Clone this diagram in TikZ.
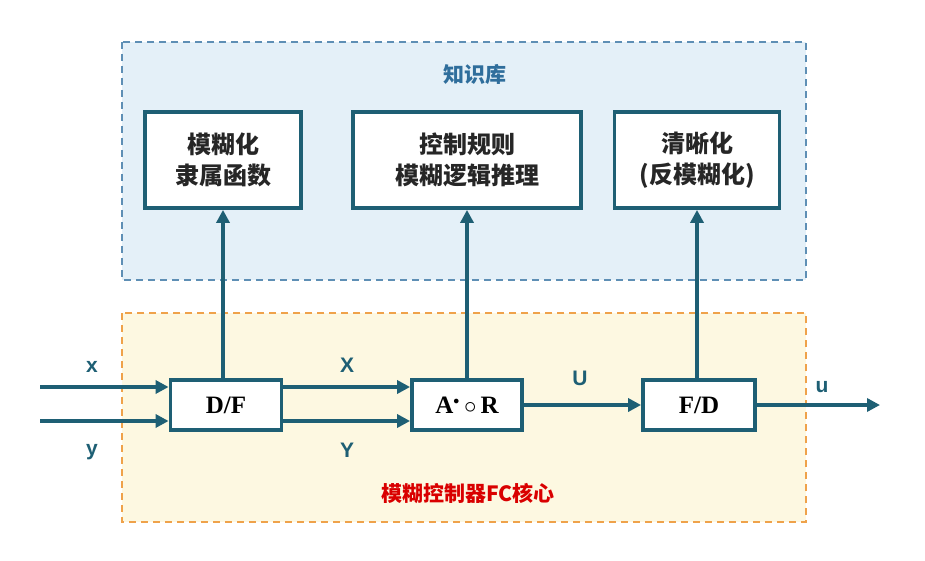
\documentclass[tikz,border=0pt]{standalone}
\usepackage{fontspec}
\setmainfont{Liberation Sans}
\newfontfamily\cjk{Noto Sans CJK SC}
\newfontfamily\serif{Liberation Serif}
\usetikzlibrary{arrows.meta}
\definecolor{ln}{HTML}{1E5F74}
\definecolor{kb}{HTML}{E4F0F8}
\definecolor{kbb}{HTML}{5E8FB5}
\definecolor{fc}{HTML}{FDF8E1}
\definecolor{fcb}{HTML}{EFA24A}
\definecolor{ttl}{HTML}{2F6E9C}
\begin{document}
\begin{tikzpicture}[x=1pt,y=-1pt,
 blk/.style={draw=ln,line width=3.8pt,fill=white,inner sep=0pt},
 cn/.style={font=\cjk\bfseries\fontsize{24}{31}\selectfont,align=center,text=black!85},
 sym/.style={font=\serif\bfseries\fontsize{25}{28}\selectfont},
 lab/.style={font=\bfseries\fontsize{21}{24}\selectfont,text=ln},
 arr/.style={draw=ln,line width=3.6pt,-{Triangle[length=13pt,width=13pt]}}]
\useasboundingbox (0,0) rectangle (925,561);
\fill[white] (0,0) rectangle (925,561);
\draw[kbb,fill=kb,line width=1.6pt,dash pattern=on 7pt off 5pt] (122,42) rectangle (806,280);
\node[font=\cjk\bfseries\fontsize{21}{25}\selectfont,text=ttl] (kt) at (475,74) {知识库};
\draw[fcb,fill=fc,line width=1.6pt,dash pattern=on 7pt off 5pt] (122,313) rectangle (806,522);
\node[font=\cjk\bfseries\fontsize{21}{25}\selectfont,text=red!85!black] (ft) at (468,494) {模糊控制器FC核心};
\node[blk,minimum width=156pt,minimum height=96pt,cn] (m1) at (223,160) {模糊化\\隶属函数};
\node[blk,minimum width=228pt,minimum height=96pt,cn] (m2) at (467,160) {控制规则\\模糊逻辑推理};
\node[blk,minimum width=165pt,minimum height=96pt,cn] (m3) at (697,160) {清晰化\\(反模糊化)};
\node[blk,minimum width=111pt,minimum height=50pt,sym] (df) at (226,405) {D/F};
\node[blk,minimum width=110pt,minimum height=50pt,sym] (ar) at (467,405) {A$^{\scriptscriptstyle\bullet}$\,$\circ$\,R};
\node[blk,minimum width=112pt,minimum height=50pt,sym] (fd) at (699,405) {F/D};
\coordinate (xi) at (40,387);
\coordinate (yi) at (40,421);
\coordinate (uo) at (880,405);
\draw[arr] (xi) -- (xi -| df.west);
\draw[arr] (yi) -- (yi -| df.west);
\draw[arr] (df.east |- xi) -- (ar.west |- xi);
\draw[arr] (df.east |- yi) -- (ar.west |- yi);
\draw[arr] (ar) -- (fd);
\draw[arr] (fd) -- (uo);
\draw[arr] (df.north -| m1) -- (m1.south);
\draw[arr] (ar.north) -- (m2.south);
\draw[arr] (fd.north -| m3) -- (m3.south);
\node[lab] (lx) at (92,367) {x};
\node[lab] (ly) at (92,452) {y};
\node[lab] (lX) at (347,365) {X};
\node[lab] (lY) at (347,450) {Y};
\node[lab] (lU) at (580,378) {U};
\node[lab] (lu) at (822,387) {u};
\end{tikzpicture}
\end{document}
